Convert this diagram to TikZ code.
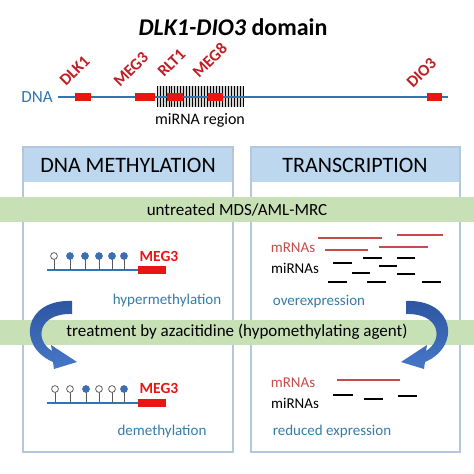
\documentclass[tikz,border=0pt]{standalone}
\usepackage{fontspec}
\setmainfont{Carlito}
\definecolor{dnablue}{RGB}{46,117,182}
\definecolor{genered}{RGB}{235,20,20}
\definecolor{lblred}{RGB}{192,30,35}
\definecolor{hdrblue}{RGB}{189,215,238}
\definecolor{panelbd}{RGB}{180,199,220}
\definecolor{bandgreen}{RGB}{200,224,182}
\definecolor{txtblue}{RGB}{52,125,170}
\definecolor{mrnared}{RGB}{200,75,75}
\definecolor{lolliblue}{RGB}{60,110,178}
\definecolor{arrowtop}{RGB}{45,85,160}
\definecolor{arrowbot}{RGB}{70,120,200}
\begin{document}
\begin{tikzpicture}[x=1pt,y=-1pt,
  genebox/.style={fill=genered,draw=none},
  genelbl/.style={font=\fontsize{16.5}{16.5}\selectfont\bfseries,text=lblred,rotate=45,anchor=base west,inner sep=0pt},
  hdr/.style={font=\fontsize{22}{22}\selectfont},
  bandtxt/.style={font=\fontsize{17}{17}\selectfont},
  note/.style={font=\fontsize{15}{15}\selectfont,text=txtblue},
  rnalbl/.style={font=\fontsize{15}{15}\selectfont},
  mrna/.style={draw=mrnared,line width=1.5pt},
  mirna/.style={draw=black,line width=1.5pt},
  panel/.style={draw=panelbd,line width=1.8pt},
  lolliopen/.style={draw=gray!80!black,fill=white,line width=0.8pt},
  lollifull/.style={draw=lolliblue,fill=lolliblue,line width=0.8pt},
  stem/.style={draw=gray!70!black,line width=0.8pt}
]
\useasboundingbox (0,0) rectangle (474,474);
\fill[white] (0,0) rectangle (474,474);

% title
\node (title) at (233,27) {\fontsize{24}{24}\selectfont\bfseries\itshape DLK1-DIO3\upshape\ domain};

% DNA
\node[font=\fontsize{17}{17}\selectfont,text=dnablue] (dnalbl) at (37,97) {DNA};
\fill[gray!35] (157,86) rectangle (243,107);
\foreach \i in {0,...,29} {\draw[black,line width=0.7pt] (157+\i*2.965,86) -- (157+\i*2.965,107);}
\draw[dnablue,line width=2pt] (58,97) -- (448,97);
\fill[genebox] (75,93) rectangle (91,101);
\fill[genebox] (135,93) rectangle (155,101);
\fill[genebox] (167,93) rectangle (183,101);
\fill[genebox] (208,93) rectangle (223,101);
\fill[genebox] (427,93) rectangle (442,101);
\node[genelbl] (gDLK) at (66,87) {DLK1};
\node[genelbl] (gMEG3) at (120,88) {MEG3};
\node[genelbl] (gRLT) at (164,78) {RLT1};
\node[genelbl] (gMEG8) at (199,79) {MEG8};
\node[genelbl] (gDIO) at (413,89) {DIO3};
\node[font=\fontsize{16}{16}\selectfont] (mirreg) at (200,120) {miRNA region};

% panels
\fill[white] (23,147) rectangle (233,452);
\fill[hdrblue] (23,147) rectangle (233,182);
\draw[panel] (23,147) rectangle (233,452);
\fill[white] (251,147) rectangle (460,452);
\fill[hdrblue] (251,147) rectangle (460,182);
\draw[panel] (251,147) rectangle (460,452);
\node[hdr] (hL) at (128,165) {DNA METHYLATION};
\node[hdr] (hR) at (355,165) {TRANSCRIPTION};

% green bands
\fill[bandgreen] (0,197) rectangle (474,222);
\node[bandtxt] (band1) at (237,210) {untreated MDS/AML-MRC};
\fill[bandgreen] (0,320) rectangle (474,345);
\node[bandtxt] (band2) at (237,332) {treatment by azacitidine (hypomethylating agent)};

% hypermethylation
\draw[dnablue,line width=1.6pt] (47,270) -- (138,270);
\fill[genebox] (138,266) rectangle (166,274);
\foreach \x in {54,70,85,99,112,124} {\draw[stem] (\x,259) -- (\x,270);}
\draw[lolliopen] (54,256) circle (3.4);
\foreach \x in {70,85,99,112,124} {\draw[lollifull] (\x,256) circle (3.4);}
\node[font=\fontsize{15.5}{15.5}\selectfont\bfseries,text=genered] (meg3a) at (159,256) {MEG3};
\node[note] (hyper) at (167,300) {hypermethylation};

% demethylation
\draw[dnablue,line width=1.6pt] (47,403) -- (138,403);
\fill[genebox] (138,399) rectangle (166,407);
\foreach \x in {55,70,86,99,112,124} {\draw[stem] (\x,392) -- (\x,403);}
\foreach \x in {55,70,99,112} {\draw[lolliopen] (\x,389) circle (3.4);}
\foreach \x in {86,124} {\draw[lollifull] (\x,389) circle (3.4);}
\node[font=\fontsize{15.5}{15.5}\selectfont\bfseries,text=genered] (meg3b) at (159,388) {MEG3};
\node[note] (demeth) at (162,431) {demethylation};

% overexpression
\node[rnalbl,text=mrnared] (mr1) at (293,248) {mRNAs};
\node[rnalbl] (mi1) at (295,268) {miRNAs};
\draw[mrna] (318,238) -- (382,238);
\draw[mrna] (397,235) -- (443,235);
\draw[mrna] (325,250) -- (368,250);
\draw[mrna] (379,247) -- (428,247);
\draw[mirna] (363,258) -- (382,258);
\draw[mirna] (397,258) -- (415,258);
\draw[mirna] (333,263) -- (352,263);
\draw[mirna] (379,266) -- (397,266);
\draw[mirna] (352,273) -- (370,273);
\draw[mirna] (397,274) -- (415,274);
\draw[mirna] (328,282) -- (347,282);
\draw[mirna] (367,282) -- (386,282);
\draw[mirna] (422,282) -- (441,282);
\node[note] (overexp) at (319,302) {overexpression};

% reduced expression
\node[rnalbl,text=mrnared] (mr2) at (293,383) {mRNAs};
\node[rnalbl] (mi2) at (295,403) {miRNAs};
\draw[mrna] (337,380) -- (400,380);
\draw[mirna] (333,395) -- (353,395);
\draw[mirna] (364,399) -- (383,399);
\draw[mirna] (398,396) -- (417,396);
\node[note] (reduced) at (332,431) {reduced expression};

% curved arrows
\shade[top color=arrowtop,bottom color=arrowbot] (72,301) .. controls (24,299) and (16,346) .. (53,362) -- (54,369) -- (77,362) -- (51,345) -- (52,351) .. controls (34,340) and (38,313) .. (72,314) -- cycle;
\shade[top color=arrowtop,bottom color=arrowbot] (406,301) .. controls (454,299) and (462,346) .. (425,362) -- (424,369) -- (401,362) -- (427,345) -- (426,351) .. controls (444,340) and (440,313) .. (406,314) -- cycle;
\end{tikzpicture}
\end{document}
